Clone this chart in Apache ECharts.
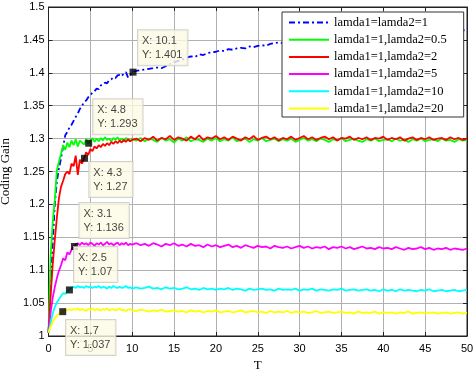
<!DOCTYPE html>
<html><head><meta charset="utf-8">
<script src="https://cdn.jsdelivr.net/npm/echarts@6/dist/echarts.min.js"></script>
<style>html,body{margin:0;padding:0;background:#fff}#c{width:474px;height:372px}</style>
</head><body><div id="c"></div>
<script>
// sampling instants T
const T = [0,0.25,0.5,0.75,1,1.25,1.5,1.75,2,2.25,2.5,2.75,3,3.25,3.5,3.75,4,4.25,4.5,4.75,5,5.25,5.5,5.75,6,6.25,6.5,6.75,7,7.25,7.5,7.75,8,8.25,8.5,8.75,9,9.25,9.5,9.75,10,
10.5,11,11.5,12,12.5,13,13.5,14,14.5,15,15.5,16,16.5,17,17.5,18,18.5,19,19.5,20,
20.5,21,21.5,22,22.5,23,23.5,24,24.5,25,25.5,26,26.5,27,27.5,28,28.5,29,29.5,30,
30.5,31,31.5,32,32.5,33,33.5,34,34.5,35,35.5,36,36.5,37,37.5,38,38.5,39,39.5,40,
40.5,41,41.5,42,42.5,43,43.5,44,44.5,45,45.5,46,46.5,47,47.5,48,48.5,49,49.5,50];

const gainL1 = [1.005,1.08,1.14,1.2,1.235,1.255,1.27,1.288,1.305,1.31,1.317,1.321,1.327,1.333,1.338,1.345,1.35,1.355,1.358,1.363,1.366,1.37,1.372,1.376,1.375,1.381,1.382,1.385,1.384,1.389,1.39,1.393,1.392,1.396,1.397,1.395,1.399,1.401,1.393,1.396,1.401,
1.403,1.404,1.405,1.406,1.407,1.408,1.407,1.41,1.413,1.416,1.418,1.42,1.423,1.425,1.424,1.428,1.427,1.43,1.431,1.432,
1.434,1.433,1.436,1.435,1.437,1.438,1.437,1.44,1.439,1.441,1.442,1.441,1.444,1.445,1.446,1.445,1.447,1.448,1.447,1.449,
1.45,1.449,1.451,1.45,1.452,1.453,1.452,1.454,1.453,1.455,1.454,1.456,1.455,1.457,1.456,1.458,1.457,1.458,1.459,1.458,
1.46,1.459,1.46,1.461,1.46,1.461,1.462,1.461,1.462,1.461,1.463,1.462,1.463,1.462,1.464,1.463,1.464,1.463,1.465,1.464];

const gainL05 = [1.005,1.12,1.172,1.207,1.252,1.265,1.277,1.29,1.283,1.294,1.287,1.297,1.29,1.299,1.288,1.297,1.294,1.291,1.299,1.293,1.297,1.301,1.295,1.3,1.296,1.301,1.297,1.302,1.298,1.3,1.296,1.301,1.298,1.302,1.297,1.3,1.296,1.301,1.299,1.296,1.3,
1.297,1.301,1.296,1.3,1.298,1.295,1.301,1.297,1.299,1.294,1.3,1.297,1.302,1.296,1.299,1.298,1.295,1.3,1.297,1.301,
1.296,1.299,1.297,1.302,1.296,1.298,1.3,1.295,1.299,1.297,1.301,1.296,1.298,1.3,1.296,1.299,1.297,1.3,1.295,1.298,
1.301,1.297,1.299,1.296,1.3,1.298,1.295,1.299,1.297,1.301,1.296,1.298,1.3,1.297,1.295,1.299,1.297,1.3,1.296,1.298,
1.299,1.296,1.3,1.297,1.298,1.295,1.299,1.297,1.3,1.296,1.298,1.299,1.296,1.3,1.297,1.298,1.295,1.299,1.297,1.298];

const gainL2 = [1.005,1.06,1.108,1.146,1.18,1.21,1.227,1.236,1.246,1.25,1.246,1.262,1.258,1.274,1.245,1.268,1.262,1.27,1.279,1.275,1.284,1.281,1.288,1.285,1.29,1.287,1.292,1.289,1.293,1.29,1.295,1.292,1.296,1.293,1.297,1.294,1.298,1.295,1.299,1.296,1.298,
1.3,1.296,1.301,1.298,1.303,1.297,1.301,1.299,1.304,1.298,1.302,1.3,1.297,1.303,1.299,1.305,1.298,1.302,1.3,1.304,
1.299,1.302,1.298,1.303,1.3,1.297,1.302,1.299,1.304,1.298,1.301,1.303,1.299,1.302,1.297,1.301,1.299,1.303,1.298,1.301,
1.304,1.299,1.302,1.298,1.301,1.303,1.299,1.302,1.297,1.301,1.3,1.303,1.298,1.301,1.299,1.302,1.298,1.301,1.3,1.303,
1.298,1.301,1.299,1.302,1.297,1.3,1.302,1.298,1.301,1.299,1.302,1.298,1.3,1.301,1.298,1.302,1.299,1.301,1.298,1.3];

const gainL5 = [1.005,1.035,1.058,1.074,1.088,1.099,1.108,1.118,1.115,1.127,1.124,1.131,1.136,1.139,1.141,1.138,1.142,1.139,1.141,1.138,1.142,1.14,1.137,1.141,1.139,1.142,1.138,1.14,1.143,1.139,1.141,1.138,1.14,1.142,1.138,1.141,1.139,1.142,1.138,1.14,1.139,
1.141,1.138,1.14,1.137,1.141,1.139,1.136,1.14,1.138,1.141,1.137,1.139,1.136,1.14,1.137,1.138,1.135,1.139,1.136,1.138,
1.135,1.137,1.139,1.135,1.137,1.134,1.138,1.136,1.134,1.137,1.135,1.136,1.133,1.137,1.135,1.134,1.136,1.133,1.135,1.137,
1.134,1.136,1.133,1.135,1.134,1.136,1.132,1.135,1.134,1.136,1.133,1.135,1.132,1.134,1.136,1.133,1.134,1.132,1.135,1.133,
1.134,1.132,1.135,1.133,1.131,1.134,1.132,1.133,1.135,1.132,1.134,1.131,1.133,1.132,1.134,1.131,1.133,1.132,1.131,1.133];

const gainL10 = [1.005,1.02,1.034,1.044,1.051,1.056,1.061,1.065,1.064,1.068,1.07,1.073,1.075,1.073,1.076,1.074,1.075,1.073,1.076,1.074,1.075,1.073,1.075,1.074,1.076,1.073,1.075,1.074,1.072,1.075,1.073,1.076,1.074,1.073,1.075,1.073,1.074,1.076,1.073,1.074,1.072,
1.074,1.072,1.073,1.075,1.072,1.073,1.071,1.074,1.072,1.073,1.071,1.072,1.074,1.071,1.072,1.07,1.073,1.071,1.072,1.07,
1.072,1.071,1.073,1.07,1.072,1.071,1.069,1.072,1.07,1.071,1.072,1.07,1.071,1.069,1.072,1.07,1.071,1.07,1.072,1.069,
1.071,1.07,1.072,1.069,1.071,1.07,1.069,1.071,1.07,1.072,1.069,1.07,1.071,1.069,1.07,1.071,1.069,1.07,1.068,1.071,
1.069,1.07,1.068,1.071,1.069,1.07,1.069,1.068,1.07,1.069,1.071,1.068,1.069,1.07,1.068,1.069,1.07,1.068,1.069,1.07];

const gainL20 = [1.005,1.014,1.021,1.027,1.031,1.034,1.035,1.037,1.04,1.039,1.041,1.039,1.041,1.04,1.042,1.039,1.041,1.04,1.038,1.041,1.04,1.042,1.039,1.041,1.04,1.039,1.041,1.04,1.042,1.039,1.04,1.041,1.039,1.04,1.042,1.039,1.04,1.038,1.04,1.041,1.039,
1.038,1.04,1.039,1.037,1.039,1.038,1.04,1.037,1.038,1.039,1.037,1.038,1.036,1.039,1.037,1.038,1.036,1.038,1.037,1.039,
1.036,1.037,1.038,1.036,1.037,1.039,1.036,1.037,1.038,1.036,1.037,1.035,1.038,1.036,1.037,1.036,1.038,1.035,1.037,1.036,
1.037,1.035,1.036,1.038,1.035,1.036,1.037,1.035,1.036,1.037,1.035,1.036,1.034,1.037,1.035,1.036,1.035,1.037,1.034,1.036,
1.035,1.036,1.034,1.036,1.035,1.037,1.034,1.035,1.036,1.034,1.035,1.036,1.034,1.035,1.036,1.034,1.035,1.036,1.034,1.035];

const seriesNames = ['lamda1=lamda2=1','lamda1=1,lamda2=0.5','lamda1=1,lamda2=2','lamda1=1,lamda2=5','lamda1=1,lamda2=10','lamda1=1,lamda2=20'];
const seriesValues = [gainL1, gainL05, gainL2, gainL5, gainL10, gainL20];

// data tips
const tipX = [10.1, 4.8, 4.3, 3.1, 2.5, 1.7];
const tipY = [1.401, 1.293, 1.27, 1.136, 1.07, 1.037];

// styling (kept apart from the data)
const colors = ['#0000ff','#00ff00','#ff0000','#ff00ff','#00ffff','#ffff00'];
const lineTypes = [[6,3,2,3],'solid','solid','solid','solid','solid'];
const tipPlace = [
  {p:[8.5,-3.5], v:'bottom'},
  {p:[8,-5.5], v:'bottom'},
  {p:[8.3,7.2], v:'top'},
  {p:[8.5,-5], v:'bottom'},
  {p:[8.1,-4.5], v:'bottom'},
  {p:[6.8,11.8], v:'top'}
];
const SANS = 'Liberation Sans, Arial, Helvetica, sans-serif';
const SERIF = 'Liberation Serif, Times New Roman, serif';

const chart = echarts.init(document.getElementById('c'), null, {renderer:'canvas'});

const lineSeries = seriesNames.map((name, i) => ({
  name: name,
  type: 'line',
  data: T.map((t, k) => [t, seriesValues[i][k]]),
  symbol: 'none',
  showSymbol: false,
  smooth: false,
  lineStyle: { color: colors[i], width: 1.8, type: lineTypes[i] },
  itemStyle: { color: colors[i] },
  z: 2 + i * 0.01
}));

const tipSeries = {
  type: 'scatter',
  data: tipX.map((x, i) => ({
    value: [x, tipY[i]],
    label: { position: tipPlace[i].p, verticalAlign: tipPlace[i].v, align: 'left' }
  })),
  symbol: 'rect',
  symbolSize: 7,
  clip: false,
  itemStyle: { color: '#000' },
  z: 10,
  silent: true,
  label: {
    show: true,
    formatter: p => 'X: ' + p.value[0] + '\nY: ' + p.value[1],
    fontFamily: SANS,
    fontSize: 11,
    lineHeight: 14,
    color: '#111',
    backgroundColor: '#fcfbe6',
    borderColor: '#c8c8c0',
    borderWidth: 1,
    padding: [4, 5, 3, 4]
  }
};

const gridLine = { show: true, lineStyle: { color: '#b0b0b0', width: 1 } };

chart.setOption({
  animation: false,
  backgroundColor: '#ffffff',
  grid: { left: 48.5, right: 7, top: 7, bottom: 36, containLabel: false, outerBoundsMode: 'none',
          show: true, borderColor: '#222', borderWidth: 1, backgroundColor: 'transparent' },
  legend: {
    data: seriesNames.map(n => ({ name: n, itemStyle: { opacity: 0 } })),
    orient: 'vertical',
    left: 282, top: 12,
    itemWidth: 40, itemHeight: 14, itemGap: 4.2,
    padding: [4, 17, 2, 6],
    backgroundColor: '#fff',
    borderColor: '#333', borderWidth: 1,
    itemStyle: { opacity: 0 },
    textStyle: { fontFamily: SERIF, fontSize: 12.5, color: '#000' },
    selectedMode: false
  },
  xAxis: [{
    type: 'value', min: 0, max: 50, interval: 5,
    name: 'T', nameLocation: 'middle', nameGap: 21,
    nameTextStyle: { fontFamily: SERIF, fontSize: 13, color: '#000' },
    axisLine: { show: true, onZero: false, lineStyle: { color: '#222' } },
    axisTick: { show: true, inside: true, length: 4, lineStyle: { color: '#222' } },
    axisLabel: { fontFamily: SANS, fontSize: 11, color: '#000', margin: 7 },
    splitLine: gridLine
  }, {
    type: 'value', min: 0, max: 50, interval: 5, position: 'top',
    axisLine: { show: true, onZero: false, lineStyle: { color: '#222' } },
    axisTick: { show: true, inside: true, length: 4, lineStyle: { color: '#222' } },
    axisLabel: { show: false }, splitLine: { show: false }
  }],
  yAxis: [{
    type: 'value', min: 1, max: 1.5, interval: 0.05,
    name: 'Coding Gain', nameLocation: 'middle', nameGap: 33,
    nameTextStyle: { fontFamily: SERIF, fontSize: 13, color: '#000' },
    axisLine: { show: true, onZero: false, lineStyle: { color: '#222' } },
    axisTick: { show: true, inside: true, length: 4, lineStyle: { color: '#222' } },
    axisLabel: { fontFamily: SANS, fontSize: 11, color: '#000', margin: 4 },
    splitLine: gridLine
  }, {
    type: 'value', min: 1, max: 1.5, interval: 0.05, position: 'right',
    axisLine: { show: true, onZero: false, lineStyle: { color: '#222' } },
    axisTick: { show: true, inside: true, length: 4, lineStyle: { color: '#222' } },
    axisLabel: { show: false }, splitLine: { show: false }
  }],
  series: lineSeries.concat([tipSeries])
});
</script>
</body></html>
